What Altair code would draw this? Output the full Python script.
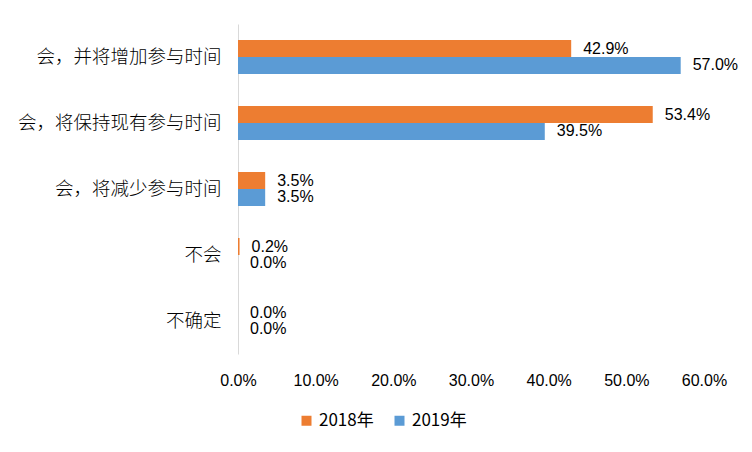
import altair as alt
import pandas as pd

categories = ["会，并将增加参与时间", "会，将保持现有参与时间", "会，将减少参与时间", "不会", "不确定"]
years = ["2018年", "2019年"]
values_2018 = [0.429, 0.534, 0.035, 0.002, 0.000]
values_2019 = [0.570, 0.395, 0.035, 0.000, 0.000]
colors = ["#ED7D31", "#5B9BD5"]
x_ticks = [0.0, 0.1, 0.2, 0.3, 0.4, 0.5, 0.6]

rows = []
for c, v in zip(categories, values_2018):
    rows.append({"category": c, "year": years[0], "value": v})
for c, v in zip(categories, values_2019):
    rows.append({"category": c, "year": years[1], "value": v})
df = pd.DataFrame(rows)

num_font = "Liberation Sans"
cjk_font = "Noto Sans CJK SC"

y_enc = alt.Y(
    "category:N",
    sort=categories,
    title=None,
    scale=alt.Scale(paddingInner=0.485, paddingOuter=0.2425),
    axis=alt.Axis(
        domain=True, domainColor="#d9d9d9", domainWidth=1,
        ticks=False, tickSize=0, grid=False,
        labelFont=cjk_font, labelFontSize=18.5, labelFontWeight=300,
        labelColor="#000000", labelPadding=17, labelLimit=400,
    ),
)
yoff_enc = alt.YOffset("year:N", sort=years, scale=alt.Scale(paddingInner=0, paddingOuter=0))
x_enc = alt.X(
    "value:Q",
    title=None,
    scale=alt.Scale(domain=[0, 0.6], nice=False),
    axis=alt.Axis(
        values=x_ticks, format=".1%", domain=False, ticks=False, tickSize=0,
        grid=False, labelFlush=False, labelOverlap=False,
        labelFont=num_font, labelFontSize=16, labelColor="#000000",
        labelPadding=18,
    ),
)
color_enc = alt.Color(
    "year:N",
    sort=years,
    scale=alt.Scale(domain=years, range=colors),
    legend=alt.Legend(
        title=None, orient="none", direction="horizontal",
        legendX=60, legendY=388,
        symbolType="square", symbolSize=100, symbolStrokeWidth=0,
        labelFont=cjk_font, labelFontSize=17, labelColor="#000000",
        labelOffset=4, columnPadding=17,
    ),
)

bars = alt.Chart(df).mark_bar(size=17).encode(
    y=y_enc, yOffset=yoff_enc, x=x_enc, color=color_enc
)
labels = alt.Chart(df).mark_text(
    align="left", baseline="middle", dx=12, font=num_font, fontSize=16, color="#000000"
).encode(
    y=alt.Y("category:N", sort=categories),
    yOffset=alt.YOffset("year:N", sort=years),
    x=alt.X("value:Q"),
    text=alt.Text("value:Q", format=".1%"),
)

chart = alt.layer(bars, labels).properties(
    width=466,
    height=330,
    padding={"left": 230, "top": 16, "right": 40, "bottom": 84},
    autosize=alt.AutoSizeParams(type="none"),
    background="#ffffff",
).configure_view(stroke=None)

chart.save("out.html", embed_options={"renderer": "svg", "actions": False})
